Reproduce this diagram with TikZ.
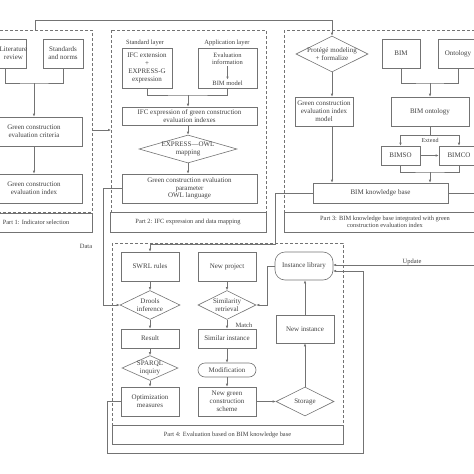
\documentclass[tikz,border=0pt]{standalone}
\usepackage{fontspec}
\setmainfont{Liberation Serif}
\usetikzlibrary{shapes.geometric,arrows.meta}
\begin{document}
\begin{tikzpicture}[x=1pt,y=-1pt,
  line/.style={draw=black!55, line width=0.6pt},
  arr/.style={line, -{Latex[length=3pt,width=2.6pt]}},
  box/.style={draw=black!55, line width=0.6pt, rectangle, align=center, inner sep=1pt,
    font=\fontsize{7}{7.8}\selectfont, text=black!75},
  dia/.style={draw=black!55, line width=0.6pt, diamond, inner sep=0pt},
  dtext/.style={font=\fontsize{7}{7.6}\selectfont, text=black!75, align=center, inner sep=0pt},
  pill/.style={box, rounded corners=7pt},
  partbox/.style={draw=black!55, line width=0.6pt, dash pattern=on 3pt off 2pt},
  lbl/.style={font=\fontsize{6.5}{7.2}\selectfont, text=black!75, align=center, inner sep=1pt},
  plab/.style={box, font=\fontsize{6.4}{7.4}\selectfont}
]
\useasboundingbox (0,0) rectangle (474,474);

% ---------- Part 1 ----------
\draw[partbox] (-5,30) rectangle (92,212);
\node[box, minimum width=42, minimum height=29] (lit) at (5,53.5) {};
\node[box, draw=none] (littext) at (13.5,53.5) {Literature\\review};
\node[box, minimum width=40, minimum height=29] (std) at (63,53.5) {Standards\\and norms};
\node[box, minimum width=96, minimum height=29] (crit) at (34,131.5) {Green construction\\evaluation criteria};
\node[box, minimum width=96, minimum height=29] (idx) at (34,188.5) {Green construction\\evaluation index};
\node[plab, minimum width=112, minimum height=19] (p1) at (36,222.5) {Part 1: Indicator selection};
\coordinate (j1) at (34,83);
\draw[line] (lit.south) |- (j1) -| (std.south);
\draw[arr] (j1) -- (crit.north);
\draw[arr] (crit) -- (idx);
\coordinate (p1r) at (92,130);
\coordinate (p2l) at (111,130);
\draw[arr] (p1r) -- (p2l);

% ---------- Part 2 ----------
\draw[partbox] (111,30) rectangle (266,212);
\node[plab, minimum width=156, minimum height=20] (p2) at (188,222) {Part 2: IFC expression and data mapping};
\node[lbl] (sl) at (145,43) {Standard layer};
\node[lbl] (al) at (227,43) {Application layer};
\node[box, minimum width=50, minimum height=40] (ifc) at (147,68) {IFC extension\\+\\EXPRESS-G\\expression};
\node[box, minimum width=59, minimum height=40] (eval) at (227.5,68) {};
\node[lbl] (ev) at (227.5,59) {Evaluation\\information};
\node[lbl] (bm) at (227.5,83) {BIM model};
\draw[arr] (ev.south) -- (bm.north);
\coordinate (j2) at (188,95);
\draw[line] (ifc.south) |- (j2) -| (eval.south);
\node[box, minimum width=135, minimum height=18] (ifcx) at (189.5,116) {IFC expression of green construction\\evaluation indexes};
\draw[arr] (j2) -- (j2 |- ifcx.north);
\node[dia, minimum width=98, minimum height=28, label={[dtext]center:EXPRESS---OWL\\mapping}] (map) at (188,149) {};
\node[box, minimum width=135, minimum height=29] (param) at (189.5,188.5) {Green construction evaluation\\parameter\\OWL language};
\draw[arr] (map.north |- ifcx.south) -- (map.north);
\draw[arr] (map.south) -- (map.south |- param.north);

% ---------- Part 3 ----------
\draw[partbox] (284,30) rectangle (495,212);
\node[plab, minimum width=202, minimum height=20] (p3) at (385,222) {Part 3: BIM knowledge base integrated with green\\construction evaluation index};
\node[dia, minimum width=72, minimum height=36, label={[dtext]center:Protégé modeling\\+ formalize}] (prot) at (332,54) {};
\coordinate (p1t) at (35,30);
\draw[arr] (p1t) |- (332,20) -- (prot.north);
\node[box, minimum width=58, minimum height=29] (gcm) at (324,111.5) {Green construction\\evaluation index\\model};
\draw[arr] (prot.south) -- (prot.south |- gcm.north);
\node[box, minimum width=38, minimum height=29] (bim) at (401,53.5) {BIM};
\node[box, minimum width=40, minimum height=29] (ont) at (458,53.5) {Ontology};
\coordinate (j3) at (430,83);
\draw[line] (bim.south) |- (j3) -| (ont.south);
\node[box, minimum width=78, minimum height=29] (bimo) at (430,111.5) {BIM ontology};
\draw[arr] (j3) -- (bimo.north);
\node[box, minimum width=39, minimum height=19] (bimso) at (400.5,155.5) {BIMSO};
\node[box, minimum width=40, minimum height=19] (bimco) at (459,155.5) {BIMCO};
\coordinate (j4) at (430,135);
\draw[line] (bimo.south) -- (j4);
\draw[arr] (j4) -| (bimso.north);
\draw[arr] (j4) -| (bimco.north);
\node[lbl, font=\fontsize{6}{6.5}\selectfont] (ext) at (430,140) {Extend};
\draw[arr] (bimso) -- (bimco);
\node[box, minimum width=135, minimum height=20] (kb) at (380.5,193) {BIM knowledge base};
\coordinate (j5) at (430,172);
\draw[line] (bimso.south) |- (j5) -| (bimco.south);
\draw[arr] (j5) -- (j5 |- kb.north);
\draw[arr] (prot.south |- gcm.south) -- (prot.south |- kb.north);

% ---------- Part 4 ----------
\draw[partbox] (112,243) rectangle (343,425);
\node[plab, minimum width=231, minimum height=19] (p4) at (227.5,434.5) {Part 4: Evaluation based on BIM knowledge base};
\node[box, minimum width=58, minimum height=29] (swrl) at (150,266.5) {SWRL rules};
\node[dia, minimum width=60, minimum height=29, label={[dtext]center:Drools\\inference}] (drools) at (150,305) {};
\node[box, minimum width=58, minimum height=19] (result) at (150,338.5) {Result};
\node[dia, minimum width=56, minimum height=25, label={[dtext]center:SPARQL\\inquiry}] (sparql) at (150,368) {};
\node[box, minimum width=58, minimum height=29] (opt) at (150,401.5) {Optimization\\measures};
\node[box, minimum width=58, minimum height=29] (newp) at (227,266.5) {New project};
\node[pill, minimum width=58, minimum height=28, rounded corners=10pt] (lib) at (304,266) {Instance library};
\node[dia, minimum width=58, minimum height=29, label={[dtext]center:Similarity\\retrieval}] (sim) at (227,305) {};
\node[box, minimum width=58, minimum height=19] (simi) at (227,338.5) {Similar instance};
\node[lbl] (match) at (244,325) {Match};
\node[pill, minimum width=58, minimum height=14] (mod) at (227,370) {Modification};
\node[box, minimum width=58, minimum height=29] (ngs) at (227,401.5) {New green\\construction\\scheme};
\node[dia, minimum width=58, minimum height=29, label={[dtext]center:Storage}] (stor) at (305,401.5) {};
\node[box, minimum width=58, minimum height=28] (newi) at (305,329) {New instance};

\draw[arr] (swrl) -- (drools);
\draw[arr] (drools) -- (result);
\draw[arr] (result) -- (sparql);
\draw[arr] (sparql) -- (opt);
\draw[arr] (newp) -- (sim);
\draw[arr] (sim) -- (simi);
\draw[arr] (simi) -- (mod);
\draw[arr] (mod) -- (ngs);
\draw[arr] (ngs) -- (stor);
\draw[arr] (stor) -- (newi);
\draw[arr] (newi) -- (newi |- lib.south);
\draw[arr] (lib.west) -- ++(-7,0) |- (sim.east);

% data line from part 2
\coordinate (dc) at (103,305);
\node[lbl] (data) at (86,246) {Data};
\draw[arr] (param.west) -| (dc) -- (drools.west);

% knowledge base to SWRL
\coordinate (k1) at (275,244);
\draw[arr] (kb.west) -| (k1) -| (swrl.north);

% update
\coordinate (u1) at (492,193);
\coordinate (u2) at (333,265);
\draw[arr] (kb.east) -- (u1) |- (u2);
\node[lbl] (upd) at (412,261.5) {Update};

% feedback from optimization measures
\coordinate (f1) at (107,453);
\coordinate (f2) at (363,453);
\coordinate (f3) at (333,271);
\draw[arr] (opt.west) -| (f1) -- (f2) |- (f3);
\end{tikzpicture}
\end{document}
